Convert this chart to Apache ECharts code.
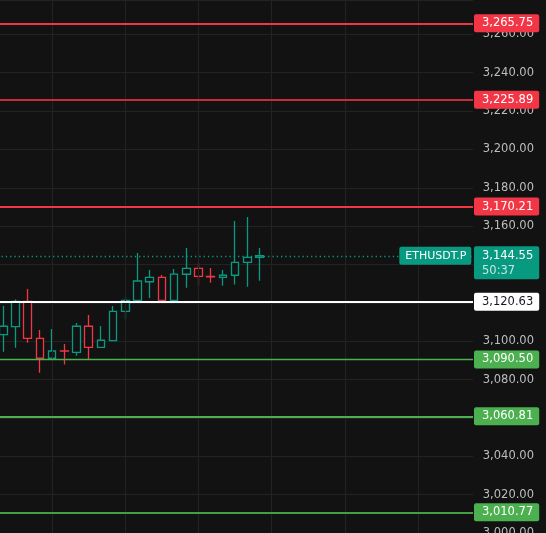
<!DOCTYPE html>
<html><head><meta charset="utf-8">
<script src="https://cdn.jsdelivr.net/npm/echarts@6/dist/echarts.min.js"></script>
<style>html,body{margin:0;padding:0;background:#121212;}#c{width:546px;height:533px;}</style>
</head><body><div id="c"></div>
<script>
// 1h candles (category labels are hidden in the reference)
const categories = [
  '01-14 20:00','01-14 21:00','01-14 22:00','01-14 23:00',
  '01-15 00:00','01-15 01:00','01-15 02:00','01-15 03:00','01-15 04:00','01-15 05:00',
  '01-15 06:00','01-15 07:00','01-15 08:00','01-15 09:00','01-15 10:00','01-15 11:00',
  '01-15 12:00','01-15 13:00','01-15 14:00','01-15 15:00','01-15 16:00','01-15 17:00',
  '01-15 18:00','01-15 19:00','01-15 20:00','01-15 21:00','01-15 22:00','01-15 23:00',
  '01-16 00:00','01-16 01:00','01-16 02:00','01-16 03:00','01-16 04:00','01-16 05:00',
  '01-16 06:00','01-16 07:00','01-16 08:00','01-16 09:00','01-16 10:00'
];
// [open, close, low, high]
const candles = [
  [3103.4, 3107.8, 3094.5, 3118.4],
  [3107.6, 3120.8, 3096.6, 3121.8],
  [3120.8, 3101.5, 3099.2, 3127.2],
  [3101.5, 3091.1, 3083.6, 3105.8],
  [3091.1, 3094.9, 3091.0, 3106.4],
  [3095.0, 3094.8, 3087.8, 3098.5],
  [3094.2, 3107.8, 3092.4, 3109.5],
  [3107.8, 3096.8, 3090.7, 3113.7],
  [3096.8, 3100.5, 3096.7, 3107.9],
  [3100.3, 3115.6, 3100.2, 3118.4],
  [3115.6, 3121.3, 3111.4, 3122.9],
  [3121.3, 3131.4, 3120.6, 3146.0],
  [3131.0, 3133.3, 3122.5, 3137.1],
  [3133.3, 3121.3, 3121.2, 3134.5],
  [3121.3, 3135.0, 3121.2, 3137.6],
  [3134.9, 3138.0, 3127.9, 3148.6],
  [3138.0, 3133.8, 3128.9, 3140.8],
  [3133.8, 3133.6, 3130.5, 3138.2],
  [3133.3, 3134.4, 3128.9, 3137.1],
  [3134.4, 3141.1, 3129.5, 3162.7],
  [3141.1, 3143.7, 3128.4, 3164.8],
  [3143.7, 3144.55, 3131.5, 3148.6]
];
const resistanceLevels = [3265.75, 3225.89, 3170.21];
const supportLevels = [3090.50, 3060.81, 3010.77];
const pivotLevel = 3120.63;
const lastPrice = 3144.55;
const symbolName = 'ETHUSDT.P';
const countdown = '50:37';
const yMin = 3000, yMax = 3277.9, yStep = 20;
const gridHours = ['00:00', '06:00', '12:00', '18:00'];

const FONT = 'DejaVu Sans';
const fmt = v => v.toLocaleString('en-US', {minimumFractionDigits: 2, maximumFractionDigits: 2});
const UP = '#089981', DOWN = '#f23645', BG = '#121212', GRID = '#232323';

function level(v, lineColor, width, bg, txt) {
  return {
    yAxis: v,
    lineStyle: {color: lineColor, width: width, type: 'solid'},
    label: {
      show: true, position: 'end', distance: 1, formatter: fmt(v),
      backgroundColor: bg, color: txt, fontFamily: FONT, fontSize: 11.5,
      lineHeight: 15, padding: [2, 6, 1, 8], borderRadius: 2
    }
  };
}

const resColors = ['#f23645', '#c62c3a', '#f23645'];
const supColors = ['#4caf50', '#4caf50', '#43a047'];
const supWidths = [1.3, 2, 2];

const levelData = [];
resistanceLevels.forEach((v, i) => levelData.push(level(v, resColors[i], 2, '#f23645', '#ffffff')));
supportLevels.forEach((v, i) => levelData.push(level(v, supColors[i], supWidths[i], '#4caf50', '#ffffff')));
levelData.push(level(pivotLevel, '#ffffff', 2, '#ffffff', '#131722'));
levelData.push({
  yAxis: lastPrice,
  lineStyle: {color: UP, width: 1.3, type: [1.3, 3]},
  label: {
    show: true, position: 'end', distance: 1, offset: [0, 7],
    formatter: '{p|' + fmt(lastPrice) + '}\n{t|' + countdown + '}',
    backgroundColor: UP, padding: [2, 6, 1, 8], borderRadius: 2,
    rich: {
      p: {color: '#ffffff', fontFamily: FONT, fontSize: 11.5, lineHeight: 15},
      t: {color: '#c5e8df', fontFamily: FONT, fontSize: 11.5, lineHeight: 15}
    }
  }
});
levelData.push({
  yAxis: lastPrice,
  lineStyle: {color: 'rgba(0,0,0,0)', width: 0},
  label: {
    show: true, position: 'end', distance: 1, offset: [-74.7, 0],
    formatter: symbolName, backgroundColor: UP, color: '#ffffff',
    fontFamily: FONT, fontSize: 11, lineHeight: 15, padding: [2, 5, 1, 6], borderRadius: 2
  }
});

const vGrid = categories.filter(c => gridHours.includes(c.slice(6))).map(c => ({xAxis: c}));

const chart = echarts.init(document.getElementById('c'), null, {renderer: 'canvas'});
chart.setOption({
  backgroundColor: BG,
  animation: false,
  grid: {left: -2.8, right: 73, top: 0, bottom: 0, outerBoundsMode: 'none', containLabel: false},
  xAxis: {
    type: 'category', data: categories, boundaryGap: true,
    axisLine: {show: false}, axisTick: {show: false}, axisLabel: {show: false}, splitLine: {show: false}
  },
  yAxis: {
    type: 'value', position: 'right', min: yMin, max: yMax, interval: yStep, scale: true,
    axisLine: {show: false}, axisTick: {show: false},
    splitLine: {lineStyle: {color: GRID, width: 1}},
    axisLabel: {
      color: '#bdbdbd', fontFamily: FONT, fontSize: 11.5, align: 'right', margin: 61,
      showMaxLabel: false, formatter: v => fmt(v)
    }
  },
  series: [
    {
      type: 'line', data: [], z: 0, silent: true,
      markLine: {
        silent: true, symbol: ['none', 'none'], animation: false,
        label: {show: false},
        lineStyle: {color: GRID, width: 1, type: 'solid'},
        data: vGrid
      }
    },
    {
      type: 'candlestick', data: candles, barWidth: 8, z: 2,
      itemStyle: {color: BG, color0: BG, borderColor: UP, borderColor0: DOWN, borderWidth: 1.3},
      markLine: {
        silent: true, symbol: ['none', 'none'], animation: false, z: 5,
        data: levelData
      }
    }
  ]
});
</script></body></html>
